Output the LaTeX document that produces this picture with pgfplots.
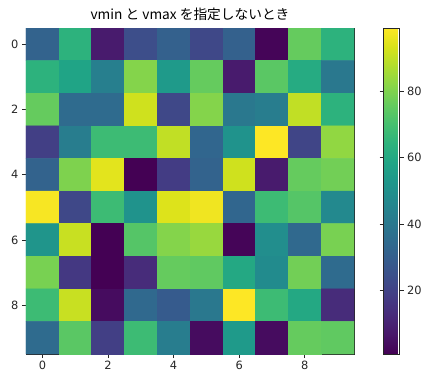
\documentclass[border=0pt]{standalone}
\usepackage{fontspec}
\setmainfont{DejaVu Sans}
\newfontfamily\jp{Noto Sans CJK JP}
\usepackage{pgfplots}
\pgfplotsset{compat=1.18}
\begin{document}
\begin{tikzpicture}
\begin{axis}[
  name=main,
  scale only axis,
  width=328pt, height=326pt,
  xmin=-0.5, xmax=9.5, ymin=-0.5, ymax=9.5,
  y dir=reverse,
  xtick={0,2,4,6,8}, ytick={0,2,4,6,8},
  xtick pos=bottom, ytick pos=left,
  tick align=outside,
  major tick length=4pt,
  axis line style={line width=0.8pt, black!85},
  tick style={line width=0.8pt, black!85},
  /pgf/number format/assume math mode=true,
  ticklabel style={font=\fontsize{11.4}{13}\selectfont, color=black!85},
  title={\jp vmin と vmax を指定しないとき},
  title style={font=\fontsize{13.7}{15}\selectfont, yshift=-2pt},
  colormap/viridis,
  point meta min=1, point meta max=99,
  colorbar,
  colorbar style={
    at={(main.north east)}, anchor=north west, xshift=21pt,
    width=16pt,
    ytick={20,40,60,80},
    yticklabel pos=right,
    tick align=outside,
    major tick length=4pt,
    axis line style={line width=0.8pt, black!85},
    tick style={line width=0.8pt, black!85},
    /pgf/number format/assume math mode=true,
    ticklabel style={font=\fontsize{11.4}{13}\selectfont, color=black!85},
  },
]
\addplot[matrix plot*, mesh/cols=10, point meta=explicit] table[x=x, y=y, meta=v, row sep=\\] {
x y v\\
0 0 32\\ 1 0 64\\ 2 0 8\\ 3 0 24\\ 4 0 31\\ 5 0 22\\ 6 0 31\\ 7 0 2\\ 8 0 76\\ 9 0 64\\
0 1 64\\ 1 1 58\\ 2 1 43\\ 3 1 81\\ 4 1 54\\ 5 1 76\\ 6 1 8\\ 7 1 74\\ 8 1 61\\ 9 1 40\\
0 2 76\\ 1 2 35\\ 2 2 35\\ 3 2 92\\ 4 2 22\\ 5 2 81\\ 6 2 40\\ 7 2 42\\ 8 2 90\\ 9 2 64\\
0 3 19\\ 1 3 42\\ 2 3 68\\ 3 3 68\\ 4 3 90\\ 5 3 33\\ 6 3 51\\ 7 3 99\\ 8 3 21\\ 9 3 83\\
0 4 32\\ 1 4 80\\ 2 4 95\\ 3 4 1\\ 4 4 18\\ 5 4 32\\ 6 4 92\\ 7 4 8\\ 8 4 76\\ 9 4 78\\
0 5 98\\ 1 5 22\\ 2 5 68\\ 3 5 51\\ 4 5 94\\ 5 5 97\\ 6 5 33\\ 7 5 68\\ 8 5 73\\ 9 5 47\\
0 6 52\\ 1 6 91\\ 2 6 1\\ 3 6 73\\ 4 6 81\\ 5 6 84\\ 6 6 2\\ 7 6 49\\ 8 6 34\\ 9 6 79\\
0 7 79\\ 1 7 17\\ 2 7 1\\ 3 7 13\\ 4 7 76\\ 5 7 75\\ 6 7 60\\ 7 7 48\\ 8 7 78\\ 9 7 35\\
0 8 68\\ 1 8 91\\ 2 8 4\\ 3 8 34\\ 4 8 29\\ 5 8 40\\ 6 8 99\\ 7 8 68\\ 8 8 60\\ 9 8 13\\
0 9 35\\ 1 9 74\\ 2 9 19\\ 3 9 68\\ 4 9 42\\ 5 9 4\\ 6 9 54\\ 7 9 4\\ 8 9 76\\ 9 9 75\\
};
\end{axis}
\path ([shift={(-26pt,-30pt)}]main.south west) rectangle ([shift={(71pt,28pt)}]main.north east);
\end{tikzpicture}
\end{document}
